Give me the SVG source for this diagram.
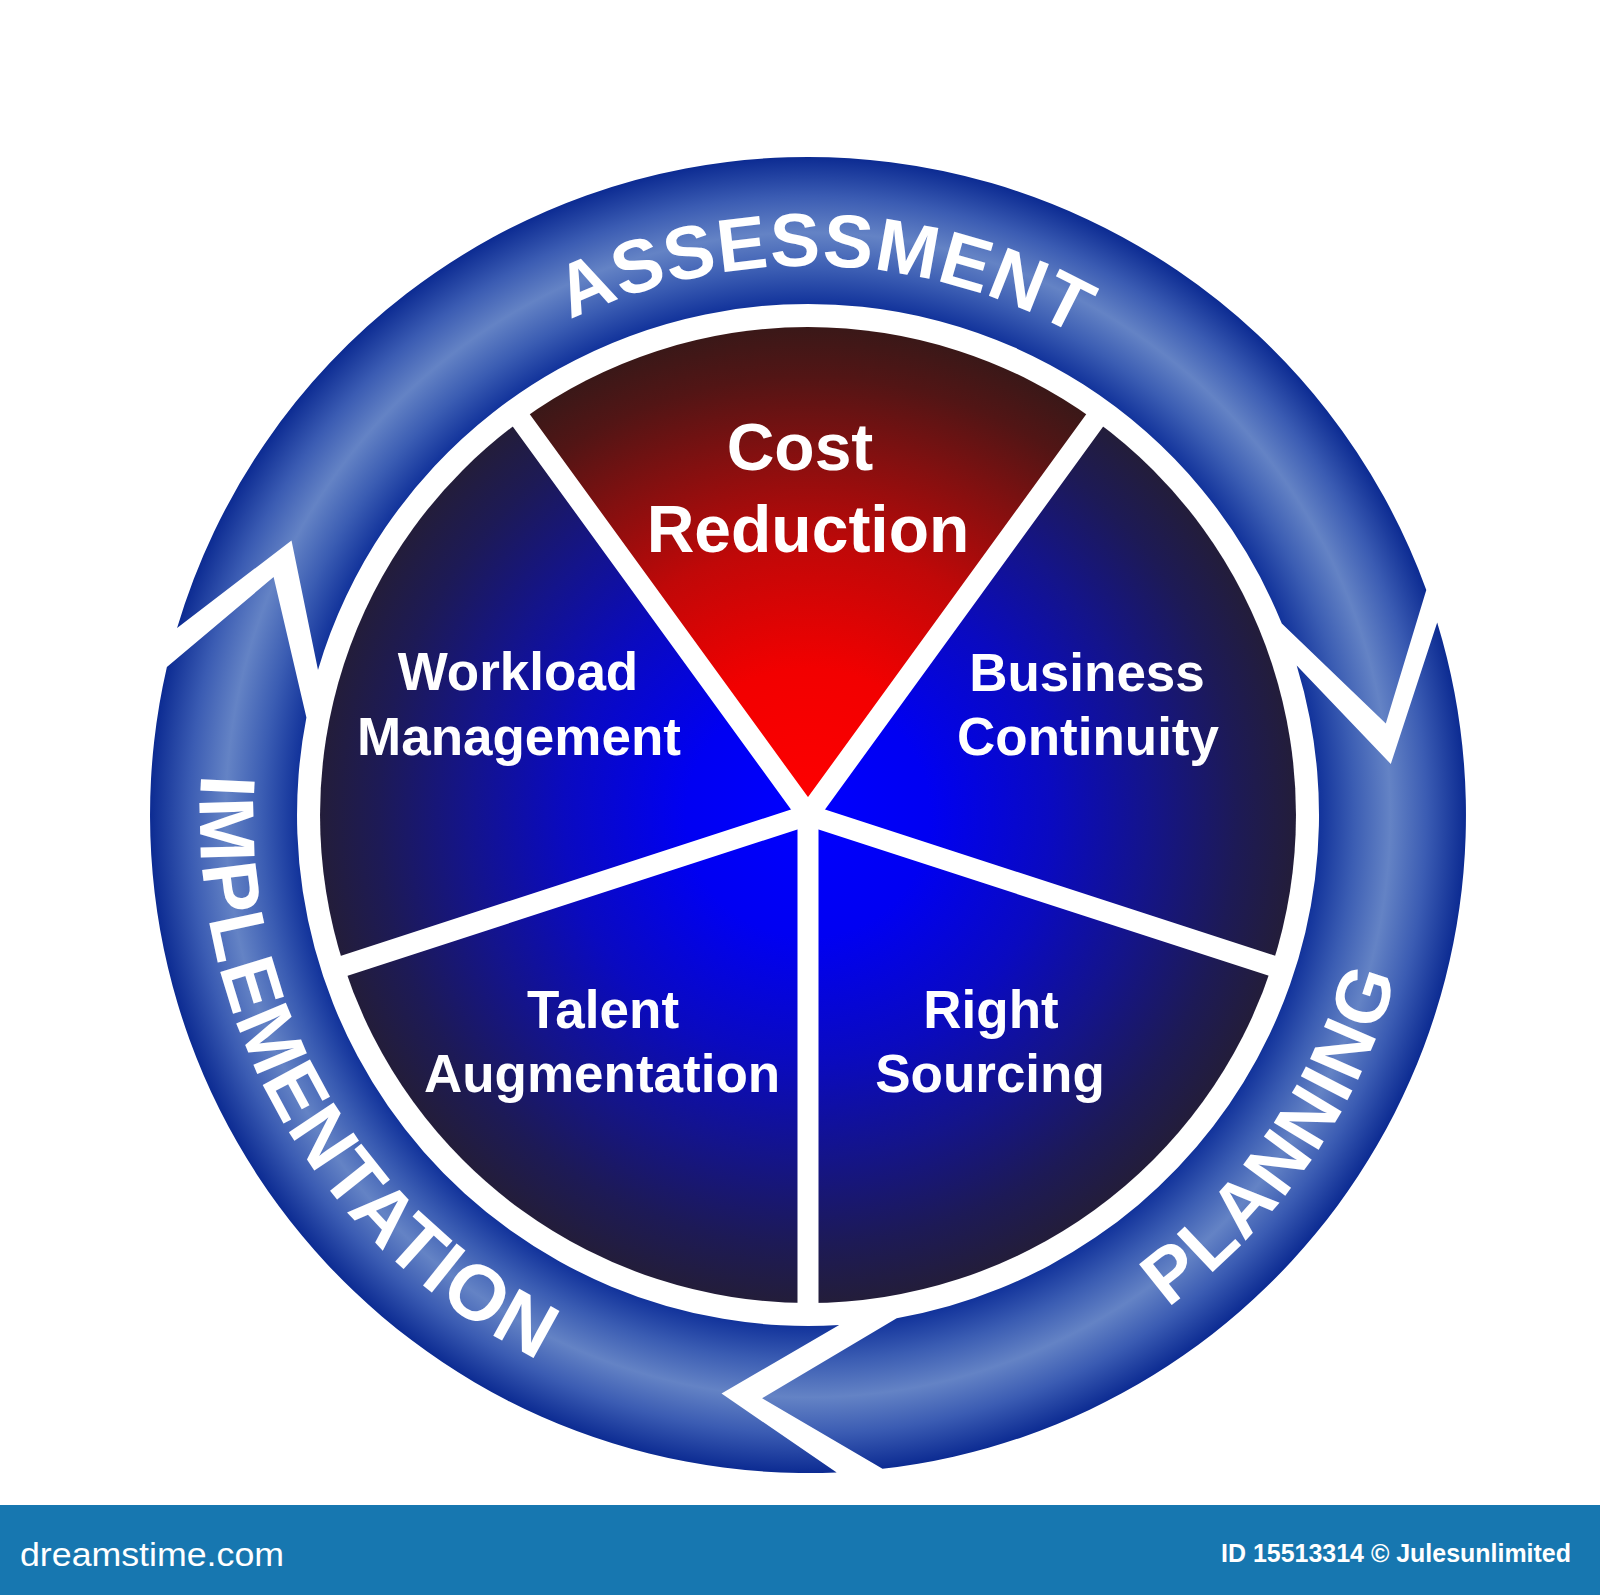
<svg xmlns="http://www.w3.org/2000/svg" xmlns:xlink="http://www.w3.org/1999/xlink" width="1600" height="1595" viewBox="0 0 1600 1595">
<defs>
<style>
.seg{stroke:none}
.sep{stroke:#ffffff;stroke-width:21;stroke-linecap:round;fill:none}
.lbl{font-family:"Liberation Sans",Arial,sans-serif;font-weight:bold;fill:#ffffff;text-anchor:middle}
.big{font-size:66px}
.mid{font-size:53px}
.ring{font-family:"Liberation Sans",Arial,sans-serif;font-weight:bold;fill:#ffffff}
.foot{font-family:"Liberation Sans",Arial,sans-serif;fill:#ffffff}
</style>
<radialGradient id="gRing" gradientUnits="userSpaceOnUse" cx="808" cy="815" r="658">
<stop offset="0.7766" stop-color="#12339b"/>
<stop offset="0.83" stop-color="#3b5db3"/>
<stop offset="0.885" stop-color="#6483c5"/>
<stop offset="0.94" stop-color="#3b5cb3"/>
<stop offset="1" stop-color="#0c2b92"/>
</radialGradient>
<radialGradient id="gBlue" gradientUnits="userSpaceOnUse" cx="808" cy="815" r="488">
<stop offset="0" stop-color="#0000ff"/>
<stop offset="0.25" stop-color="#0000f2"/>
<stop offset="0.5" stop-color="#0a0ac0"/>
<stop offset="0.7" stop-color="#14148a"/>
<stop offset="0.88" stop-color="#1d1a56"/>
<stop offset="1" stop-color="#231d3a"/>
</radialGradient>
<radialGradient id="gRed" gradientUnits="userSpaceOnUse" cx="808" cy="815" r="488">
<stop offset="0" stop-color="#ff0000"/>
<stop offset="0.3" stop-color="#f20000"/>
<stop offset="0.55" stop-color="#c00808"/>
<stop offset="0.75" stop-color="#821010"/>
<stop offset="0.9" stop-color="#521515"/>
<stop offset="1" stop-color="#3a1818"/>
</radialGradient>
<path id="pAssess" d="M469.0 382.8 A551 551 0 0 1 1174.4 405.1"/>
<path id="pPlan" d="M1021.6 1386.4 A610 610 0 0 0 1418.0 809.7"/>
<path id="pImpl" d="M236.7 607.0 A608 608 0 0 0 702.4 1413.8"/>
</defs>
<rect x="0" y="0" width="1600" height="1595" fill="#ffffff"/>

<g id="ring-assessment">
<path class="seg" fill="url(#gRing)" d="M177.1 628.1 A658 658 0 0 1 1426.3 589.9 L1385.8 723.5 L1281.8 623.6 A511 511 0 0 0 318.0 669.9 L291.5 540.4 Z"/>
<text class="ring" font-size="75" letter-spacing="1"><textPath href="#pAssess" xlink:href="#pAssess" startOffset="50%" text-anchor="middle">ASSESSMENT</textPath></text>
</g>
<g id="ring-planning">
<path class="seg" fill="url(#gRing)" d="M1437.2 622.6 A658 658 0 0 1 882.5 1468.8 L762.1 1398.2 L896.7 1318.2 A511 511 0 0 0 1296.7 665.6 L1390.8 764.0 Z"/>
<text class="ring" font-size="76" letter-spacing="2"><textPath href="#pPlan" xlink:href="#pPlan" startOffset="50%" text-anchor="middle">PLANNING</textPath></text>
</g>
<g id="ring-implementation">
<path class="seg" fill="url(#gRing)" d="M836.7 1472.4 A658 658 0 0 1 166.9 667.0 L273.6 577.1 L306.4 717.5 A511 511 0 0 0 839.2 1325.0 L721.5 1393.6 Z"/>
<text class="ring" font-size="78" letter-spacing="2"><textPath href="#pImpl" xlink:href="#pImpl" startOffset="50%" text-anchor="middle">IMPLEMENTATION</textPath></text>
</g>

<g id="slice-cost">
<path fill="url(#gRed)" d="M808 815 L521.2 420.2 A488 488 0 0 1 1094.8 420.2 Z"/>
</g>
<g id="slice-business">
<path fill="url(#gBlue)" d="M808 815 L1094.8 420.2 A488 488 0 0 1 1272.1 965.8 Z"/>
</g>
<g id="slice-sourcing">
<path fill="url(#gBlue)" d="M808 815 L1272.1 965.8 A488 488 0 0 1 808 1303 Z"/>
</g>
<g id="slice-talent">
<path fill="url(#gBlue)" d="M808 815 L808 1303 A488 488 0 0 1 343.9 965.8 Z"/>
</g>
<g id="slice-workload">
<path fill="url(#gBlue)" d="M808 815 L343.9 965.8 A488 488 0 0 1 521.2 420.2 Z"/>
</g>

<g id="separators">
<line class="sep" x1="808" y1="815" x2="515.3" y2="412.1"/>
<line class="sep" x1="808" y1="815" x2="1100.7" y2="412.1"/>
<line class="sep" x1="808" y1="815" x2="1281.6" y2="968.9"/>
<line class="sep" x1="808" y1="815" x2="808" y2="1313"/>
<line class="sep" x1="808" y1="815" x2="334.4" y2="968.9"/>
</g>

<g id="labels">
<text class="lbl big" x="800" y="470">Cost</text>
<text class="lbl big" x="808" y="552">Reduction</text>
<text class="lbl mid" x="518" y="690">Workload</text>
<text class="lbl mid" x="519" y="755">Management</text>
<text class="lbl mid" x="1087" y="691">Business</text>
<text class="lbl mid" x="1088" y="755">Continuity</text>
<text class="lbl mid" x="603" y="1028">Talent</text>
<text class="lbl mid" x="602" y="1092">Augmentation</text>
<text class="lbl mid" x="991" y="1028">Right</text>
<text class="lbl mid" x="990" y="1092">Sourcing</text>
</g>

<g id="footer">
<rect x="0" y="1505" width="1600" height="90" fill="#1777b0"/>
<text class="foot" x="20" y="1566" font-size="34" textLength="264" lengthAdjust="spacingAndGlyphs">dreamstime.com</text>
<text class="foot" x="1221" y="1562" font-size="26" font-weight="bold" textLength="350" lengthAdjust="spacingAndGlyphs">ID 15513314 © Julesunlimited</text>
</g>
</svg>
